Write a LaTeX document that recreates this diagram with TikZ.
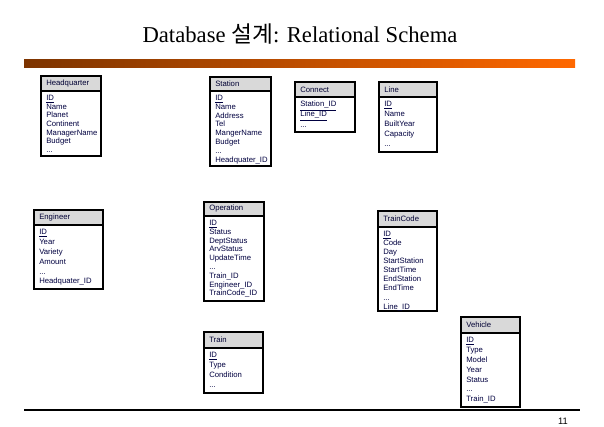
\documentclass[tikz,border=0pt]{standalone}
\usepackage{fontspec}
\setmainfont{Liberation Serif}
\setsansfont{Liberation Sans}
\newfontfamily\cjk{Noto Sans CJK KR}
\begin{document}
\begin{tikzpicture}[x=0.75pt,y=-0.75pt,
  hdr/.style={anchor=west,font=\sffamily\fontsize{5.8pt}{6pt}\selectfont,text=black!80!blue,inner sep=0pt},
  fld/.style={anchor=north west,align=left,font=\sffamily\fontsize{5.8pt}{#1}\selectfont,text=black!75!blue,inner sep=0pt}]
\useasboundingbox (0,0) rectangle (604,427);
\node (title) at (300,34) {\fontsize{17pt}{19pt}\selectfont Database {\cjk 설계}: Relational Schema};
\shade[left color={rgb,255:red,125;green,52;blue,0},right color={rgb,255:red,255;green,104;blue,0}] (24,60) rectangle (575,68);
\draw[line width=0.8pt] (24,410) -- (580,410);
\node (pg) at (563,421) {\sffamily\fontsize{7pt}{8pt}\selectfont 11};
\newcommand{\tbl}[9]{%
  \fill[gray!35] (#2+1.2,#3+1.2) rectangle (#4+1.2,#5+1.2);
  \filldraw[fill=white,draw=black,line width=0.8pt] (#2,#3) rectangle (#4,#5);
  \filldraw[fill=gray!30,draw=black,line width=0.8pt] (#2,#3) rectangle (#4,#6);
  \node[hdr] (#1h) at (#2+5,{(#3+#6)/2}) {#7};
  \node[fld=#9] (#1f) at (#2+5,#6+4) {#8};}
\tbl{hq}{41}{76}{101}{156}{91}{Headquarter}{\underline{ID}\\Name\\Planet\\Continent\\ManagerName\\Budget\\...}{6.5pt}
\tbl{st}{210}{77}{271}{166}{91}{Station}{\underline{ID}\\Name\\Address\\Tel\\MangerName\\Budget\\...\\Headquater\_ID}{6.6pt}
\tbl{cn}{295}{82}{355}{132}{97}{Connect}{\underline{Station\_ID}\\\underline{Line\_ID}\\...}{7.6pt}
\tbl{ln}{379}{82}{437}{152}{97}{Line}{\underline{ID}\\Name\\BuiltYear\\Capacity\\...}{7.4pt}
\tbl{en}{34}{210}{103}{289}{225}{Engineer}{\underline{ID}\\Year\\Variety\\Amount\\...\\Headquater\_ID}{7.4pt}
\tbl{op}{204}{202}{264}{301}{216}{Operation}{\underline{ID}\\Status\\DeptStatus\\ArvStatus\\UpdateTime\\...\\Train\_ID\\Engineer\_ID\\TrainCode\_ID}{6.6pt}
\tbl{tc}{378}{211}{437}{311}{227}{TrainCode}{\underline{ID}\\Code\\Day\\StartStation\\StartTime\\EndStation\\EndTime\\...\\Line\_ID}{6.8pt}
\tbl{tr}{204}{332}{263}{393}{348}{Train}{\underline{ID}\\Type\\Condition\\...}{7.5pt}
\tbl{vh}{461}{317}{520}{407}{333}{Vehicle}{\underline{ID}\\Type\\Model\\Year\\Status\\...\\Train\_ID}{7.4pt}
\end{tikzpicture}
\end{document}
